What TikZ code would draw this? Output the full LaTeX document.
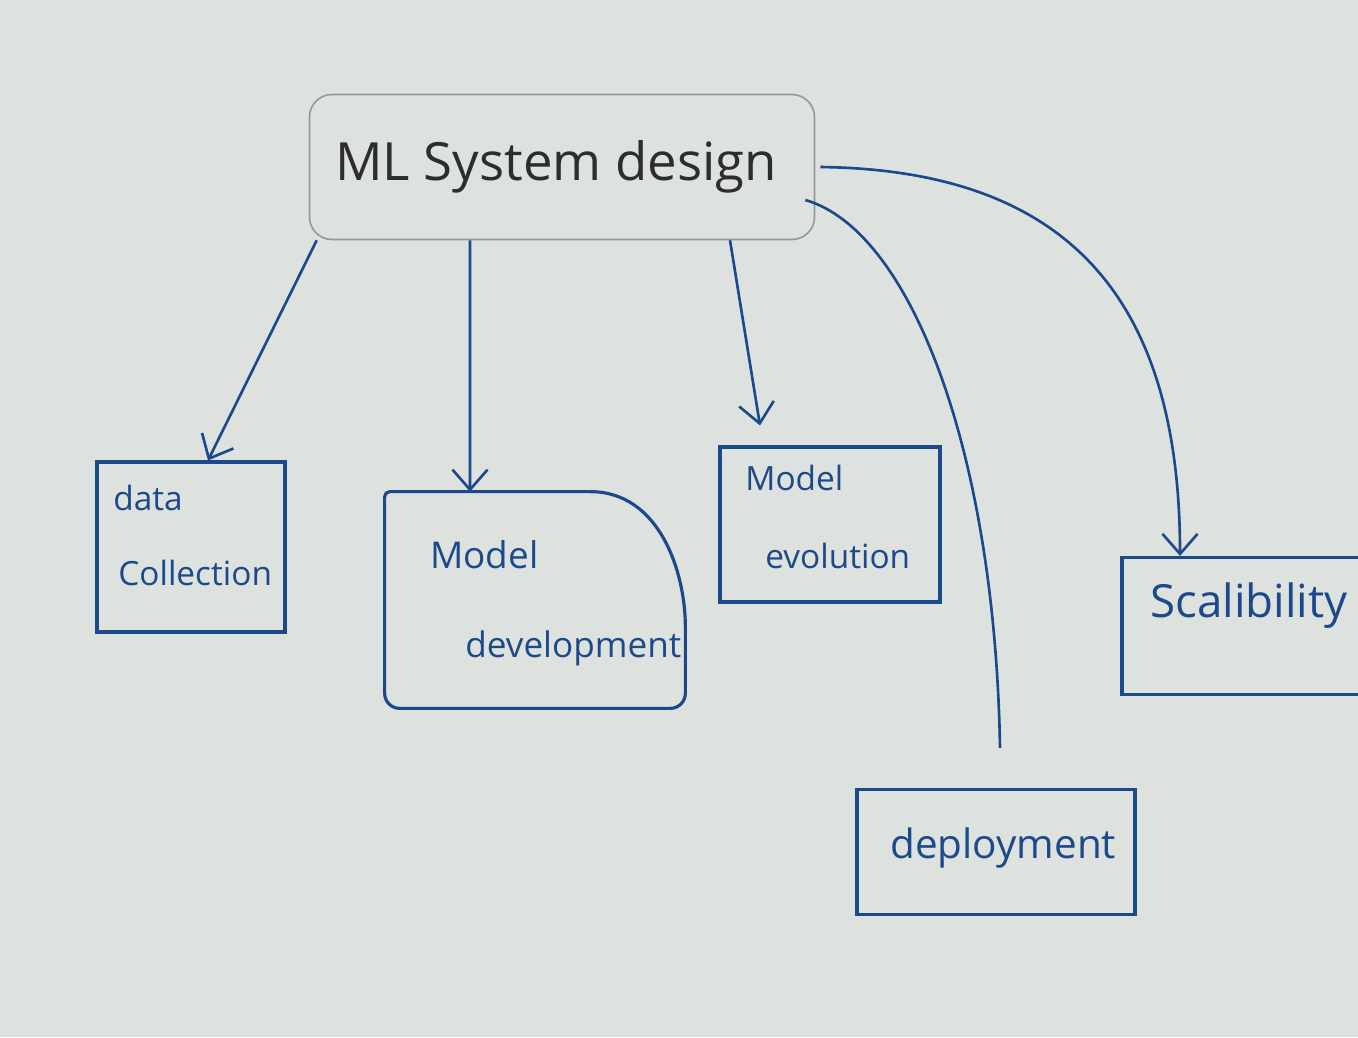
\documentclass[tikz,border=0pt]{standalone}
\usepackage{fontspec}
\setmainfont{Open Sans}
\usetikzlibrary{arrows.meta,positioning}
\definecolor{board}{RGB}{221,226,222}
\definecolor{marker}{RGB}{28,72,140}
\definecolor{greymark}{RGB}{150,152,150}
\definecolor{inkdark}{RGB}{45,45,45}

\begin{document}
\begin{tikzpicture}[>={Straight Barb[length=4mm,width=7mm]},
  box/.style={draw=marker,line width=1.8pt,inner sep=0pt},
  lbl/.style={text=marker,inner sep=0pt,anchor=base west},
  link/.style={draw=marker,line width=1.5pt}]
  % whiteboard
  \fill[board] (0,0) rectangle (27.16,-20.74);
  \useasboundingbox (0,0) rectangle (27.16,-20.74);
  \clip (0,0) rectangle (27.16,-20.74);

  % top box
  \node[draw=greymark,line width=0.9pt,rounded corners=0.45cm,inner sep=0pt,
        minimum width=10.1cm,minimum height=2.9cm] (ml) at (11.24,-3.34) {};
  \node[anchor=base west,inner sep=0pt,text=inkdark,font=\fontsize{30}{34}\selectfont]
    (mltxt) at (6.7,-3.6) {ML System design};

  % boxes
  \node[box,minimum width=3.76cm,minimum height=3.4cm] (dc) at (3.82,-10.94) {};
  \node[lbl,font=\fontsize{19}{23}\selectfont] (dc1) at (2.26,-10.2) {data};
  \node[lbl,font=\fontsize{19}{23}\selectfont] (dc2) at (2.36,-11.7) {Collection};

  \node[inner sep=0pt,minimum width=6.0cm,minimum height=4.32cm] (md) at (10.7,-12.0) {};
  \draw[box,rounded corners=0.3cm] (md.north west) -- (md.south west) -- (md.south east)
    -- ([yshift=-3.0cm]md.north east) [sharp corners] to[out=90,in=0] ([xshift=-1.9cm]md.north east)
    [rounded corners=0.1cm] -- cycle;
  \node[lbl,font=\fontsize{21}{25}\selectfont] (md1) at (8.6,-11.36) {Model};
  \node[lbl,font=\fontsize{20}{24}\selectfont] (md2) at (9.3,-13.15) {development};

  \node[box,minimum width=4.4cm,minimum height=3.1cm] (me) at (16.6,-10.49) {};
  \node[lbl,font=\fontsize{19}{23}\selectfont] (me1) at (14.9,-9.8) {Model};
  \node[lbl,font=\fontsize{19}{23}\selectfont] (me2) at (15.3,-11.36) {evolution};

  \node[box,minimum width=5.56cm,minimum height=2.5cm] (dp) at (19.92,-17.04) {};
  \node[lbl,font=\fontsize{23}{27}\selectfont] (dptxt) at (17.8,-17.16) {deployment};

  \node[box,minimum width=4.96cm,minimum height=2.74cm] (sc) at (24.92,-12.52) {};
  \node[lbl,font=\fontsize{26}{30}\selectfont] (sctxt) at (23.0,-12.34) {Scalibility};

  % connectors
  \draw[link,->] ([xshift=0.16cm]ml.south west) -- ([xshift=0.34cm]dc.north);
  \draw[link,->] ([xshift=-1.84cm]ml.south) -- ([xshift=-1.3cm]md.north);
  \draw[link,->] ([xshift=3.36cm]ml.south) -- ([xshift=-1.4cm,yshift=0.4cm]me.north);
  \coordinate (dpend) at ([xshift=0.08cm,yshift=0.8cm]dp.north);
  \draw[link] ([xshift=-0.2cm,yshift=-0.66cm]ml.east)
    .. controls (18.2,-4.6) and (19.9,-9.0) .. (dpend);
  \draw[link,->] ([xshift=0.1cm]ml.east)
    .. controls (21.2,-3.4) and (23.6,-5.8) .. ([xshift=-1.32cm]sc.north);
\end{tikzpicture}
\end{document}
